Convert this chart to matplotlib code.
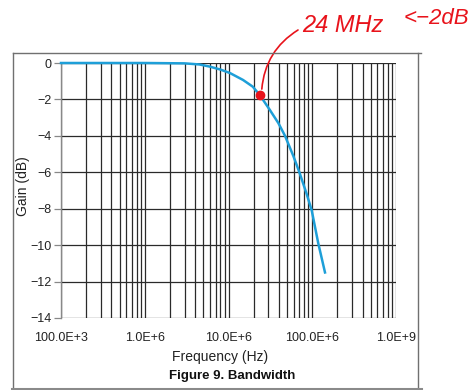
import matplotlib
matplotlib.use("Agg")
import matplotlib.pyplot as plt
from matplotlib.lines import Line2D
import numpy as np

plt.rcParams['font.family'] = ['Liberation Sans', 'DejaVu Sans']

# Data
freq_hz = [1e5, 1e6, 3e6, 4.5e6, 6e6, 8e6, 10.4e6, 14.9e6, 19.5e6, 23.8e6,
           31.3e6, 39.4e6, 47.3e6, 59.4e6, 65.2e6, 71.4e6, 85.9e6, 98.6e6, 118e6, 142e6]
gain_db = [0, 0, -0.02, -0.08, -0.2, -0.36, -0.55, -0.93, -1.3, -1.78,
           -2.59, -3.3, -4.0, -5.1, -5.6, -6.1, -7.2, -8.1, -9.9, -11.5]
marker_freq = [23.8e6]
marker_gain = [-1.78]
x_ticks = [1e5, 1e6, 1e7, 1e8, 1e9]
x_tick_labels = ["100.0E+3", "1.0E+6", "10.0E+6", "100.0E+6", "1.0E+9"]
y_ticks = [0, -2, -4, -6, -8, -10, -12, -14]
y_tick_labels = ["0", "\u22122", "\u22124", "\u22126", "\u22128", "\u221210", "\u221212", "\u221214"]

W, H = 474, 390
fig = plt.figure(figsize=(W / 100, H / 100), dpi=100)
fig.patch.set_facecolor('white')

def fx(px):
    return px / W

def fy(py):
    return 1 - py / H

ax = fig.add_axes([fx(61), fy(318), fx(396) - fx(61), fy(63) - fy(318)])
ax.set_xscale('log')
ax.set_xlim(1e5, 1e9)
ax.set_ylim(-14, 0)

ax.plot(freq_hz, gain_db, color='#1e9fd8', lw=1.8, zorder=3, clip_on=False)
ax.plot(marker_freq, marker_gain, 'o', color='#e8131b', ms=6, zorder=4)

ax.set_xticks(x_ticks)
ax.set_xticklabels(x_tick_labels)
ax.set_yticks(y_ticks)
ax.set_yticklabels(y_tick_labels)
ax.xaxis.set_minor_locator(matplotlib.ticker.LogLocator(base=10, subs=np.arange(2, 10)))
ax.xaxis.set_minor_formatter(matplotlib.ticker.NullFormatter())

ax.grid(True, which='both', axis='x', color='#2a2a2a', lw=0.9)
ax.grid(True, which='major', axis='y', color='#2a2a2a', lw=0.9)
ax.tick_params(axis='x', which='both', length=0, pad=10, labelsize=9, colors='#222222')
ax.tick_params(axis='y', which='both', length=5, width=0.9, pad=1.5, labelsize=9,
               color='#888888', labelcolor='#222222')
for s in ['top', 'right', 'bottom']:
    ax.spines[s].set_visible(False)
ax.spines['left'].set_color('#888888')
ax.spines['left'].set_linewidth(1.0)
ax.set_axisbelow(True)

fig.text(fx(220), fy(357), "Frequency (Hz)", ha='center', va='center', fontsize=10, color='#222222')
fig.text(fx(232), fy(376), "Figure 9. Bandwidth", ha='center', va='center', fontsize=9.5,
         fontweight='bold', color='#111111')
fig.text(fx(23), fy(186), "Gain (dB)", ha='center', va='center', rotation=90, fontsize=10,
         color='#222222')

# outer frame
frame_col = '#707070'
fig.add_artist(Line2D([fx(13), fx(421)], [fy(52.5), fy(52.5)], color=frame_col, lw=1.0))
fig.add_artist(Line2D([fx(13), fx(13)], [fy(52.5), fy(388)], color=frame_col, lw=1.0))
fig.add_artist(Line2D([fx(418), fx(418)], [fy(52.5), fy(390)], color=frame_col, lw=1.0))
fig.add_artist(Line2D([fx(12), fx(421)], [fy(388.5), fy(388.5)], color='#8a8a8a', lw=2.2))

# handwritten annotation
red = '#e8131b'
ax.annotate("", xy=(marker_freq[0] * 1.05, marker_gain[0] + 0.35),
            xytext=(fx(298), fy(30)), textcoords='figure fraction',
            arrowprops=dict(arrowstyle='-', color=red, lw=1.2,
                            connectionstyle='arc3,rad=0.25', shrinkA=0, shrinkB=0),
            annotation_clip=False)
fig.text(fx(302), fy(25), "24 MHz", ha='left', va='center', fontsize=17, color=red,
         fontstyle='italic', fontweight='light')
fig.text(fx(404), fy(18), "<\u22122dB", ha='left', va='center', fontsize=16, color=red,
         fontstyle='italic')

fig.savefig("out.png", dpi=100, facecolor='white')
